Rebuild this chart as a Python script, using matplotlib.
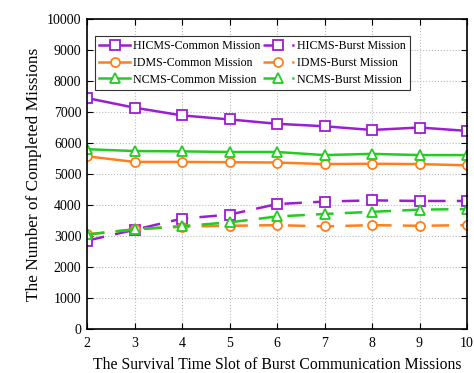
import matplotlib
matplotlib.use("Agg")
import matplotlib.pyplot as plt

plt.rcParams['font.family'] = ['Liberation Serif', 'DejaVu Serif']
plt.rcParams['mathtext.fontset'] = 'stix'

slots = [2, 3, 4, 5, 6, 7, 8, 9, 10]
hicms_common = [7450, 7140, 6890, 6760, 6620, 6540, 6420, 6500, 6390]
idms_common = [5570, 5390, 5390, 5380, 5370, 5320, 5330, 5320, 5280]
ncms_common = [5800, 5740, 5730, 5710, 5710, 5610, 5650, 5610, 5610]
hicms_burst = [2850, 3200, 3560, 3690, 4030, 4110, 4150, 4130, 4130]
idms_burst = [3050, 3220, 3300, 3330, 3350, 3310, 3350, 3330, 3350]
ncms_burst = [3050, 3210, 3320, 3440, 3630, 3710, 3780, 3850, 3870]

purple = '#9B1FD0'
orange = '#FF7F1A'
green = '#22CC22'

fig = plt.figure(figsize=(4.74, 3.73), dpi=100)
ax = fig.add_axes([87/474, 1-329/373, (467-87)/474, (329-19)/373])

dash = (0, (7, 4.5))
kw = dict(linewidth=1.8, markersize=6.5, markerfacecolor='white', markeredgewidth=1.3)
ax.plot(slots, hicms_common, '-', color=purple, marker='s', label='HICMS-Common Mission', **kw)
ax.plot(slots, hicms_burst, linestyle=dash, color=purple, marker='s', label='HICMS-Burst Mission', **kw)
ax.plot(slots, idms_common, '-', color=orange, marker='o', label='IDMS-Common Mission', **kw)
ax.plot(slots, idms_burst, linestyle=dash, color=orange, marker='o', label='IDMS-Burst Mission', **kw)
ax.plot(slots, ncms_common, '-', color=green, marker='^', label='NCMS-Common Mission', **kw)
ax.plot(slots, ncms_burst, linestyle=dash, color=green, marker='^', label='NCMS-Burst Mission', **kw)

ax.set_xlim(2, 10)
ax.set_ylim(0, 10000)
ax.set_xticks(slots)
ax.set_yticks(range(0, 10001, 1000))
ax.grid(True, linestyle=':', color='#BBBBBB', linewidth=0.8)
ax.tick_params(direction='in', length=4, labelsize=10, right=True, top=True, pad=4)
ax.tick_params(axis='x', pad=6)
for s in ax.spines.values():
    s.set_linewidth(1.2)

ax.set_xlabel('The Survival Time Slot of Burst Communication Missions', fontsize=11.3, labelpad=5)
ax.set_ylabel('The Number of Completed Missions', fontsize=12.4)
ax.yaxis.set_label_coords(-0.118, 0.5)

h, l = ax.get_legend_handles_labels()
order = [0, 2, 4, 1, 3, 5]
leg = ax.legend([h[i] for i in order], [l[i] for i in order], ncol=2, loc='upper left',
                bbox_to_anchor=(0.005, 0.965), fontsize=8.6, frameon=True, fancybox=False,
                edgecolor='black', handlelength=2.6, columnspacing=0.2, handletextpad=0.25,
                labelspacing=0.4, borderpad=0.35)
leg.get_frame().set_linewidth(0.8)

fig.savefig('out.png', dpi=100)
